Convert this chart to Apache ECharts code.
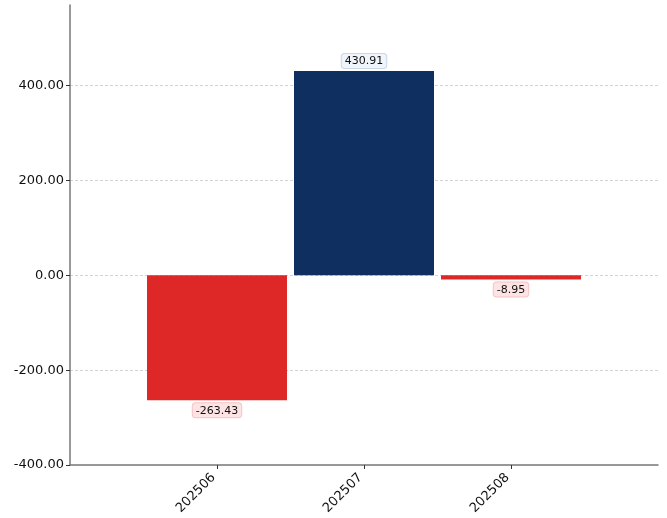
<!DOCTYPE html>
<html><head><meta charset="utf-8">
<script src="https://cdn.jsdelivr.net/npm/echarts@6/dist/echarts.min.js"></script>
<style>html,body{margin:0;padding:0;background:#fff}#c{width:667px;height:518px}</style>
</head><body><div id="c"></div>
<script>
const categories = ['202506', '202507', '202508'];
const values = [-263.43, 430.91, -8.95];
const yTicks = [-400, -200, 0, 200, 400];

const POS = '#0e2f5f', NEG = '#de2727';
const axisCats = [''].concat(categories, ['']);
const data = [null].concat(values.map(v => ({
  value: v,
  itemStyle: { color: v >= 0 ? POS : NEG },
  label: {
    position: v >= 0 ? 'top' : 'bottom',
    backgroundColor: v >= 0 ? '#f0f5fb' : '#fde3e4',
    borderColor: v >= 0 ? '#c8d6e8' : '#f3c4c7'
  }
})), [null]);

const chart = echarts.init(document.getElementById('c'));
chart.setOption({
  animation: false,
  textStyle: { fontFamily: 'DejaVu Sans' },
  grid: { left: 70, right: 9, top: 5, bottom: 53, containLabel: false },
  xAxis: {
    type: 'category', data: axisCats, boundaryGap: false,
    axisLine: { onZero: false, lineStyle: { color: '#777', width: 1.5 } },
    axisTick: { show: true, length: 4, lineStyle: { color: '#333' },
      interval: (i, v) => v !== '' },
    axisLabel: { rotate: 45, fontSize: 13, color: '#111', margin: 7,
      padding: [0, 5, 0, 0], interval: (i, v) => v !== '' },
    splitLine: { show: false }
  },
  yAxis: {
    type: 'value', min: yTicks[0], max: 570, interval: 200,
    axisLine: { show: true, lineStyle: { color: '#777', width: 1.5 } },
    axisTick: { show: true, length: 4, lineStyle: { color: '#333' } },
    axisLabel: { fontSize: 13, color: '#111', margin: 6, showMaxLabel: false,
      formatter: v => yTicks.indexOf(v) >= 0 ? v.toFixed(2) : '' },
    splitLine: { show: true, showMaxLine: false, showMinLine: false,
      lineStyle: { color: '#c8c8c8', type: [3, 2], width: 0.8 } }
  },
  series: [{
    type: 'bar', data: data, barWidth: 140,
    label: { show: true, fontSize: 11, color: '#111', distance: 3,
      padding: [2, 3, 1, 3], borderWidth: 1, borderRadius: 3,
      formatter: p => p.value.toFixed(2) }
  }]
});
</script></body></html>
